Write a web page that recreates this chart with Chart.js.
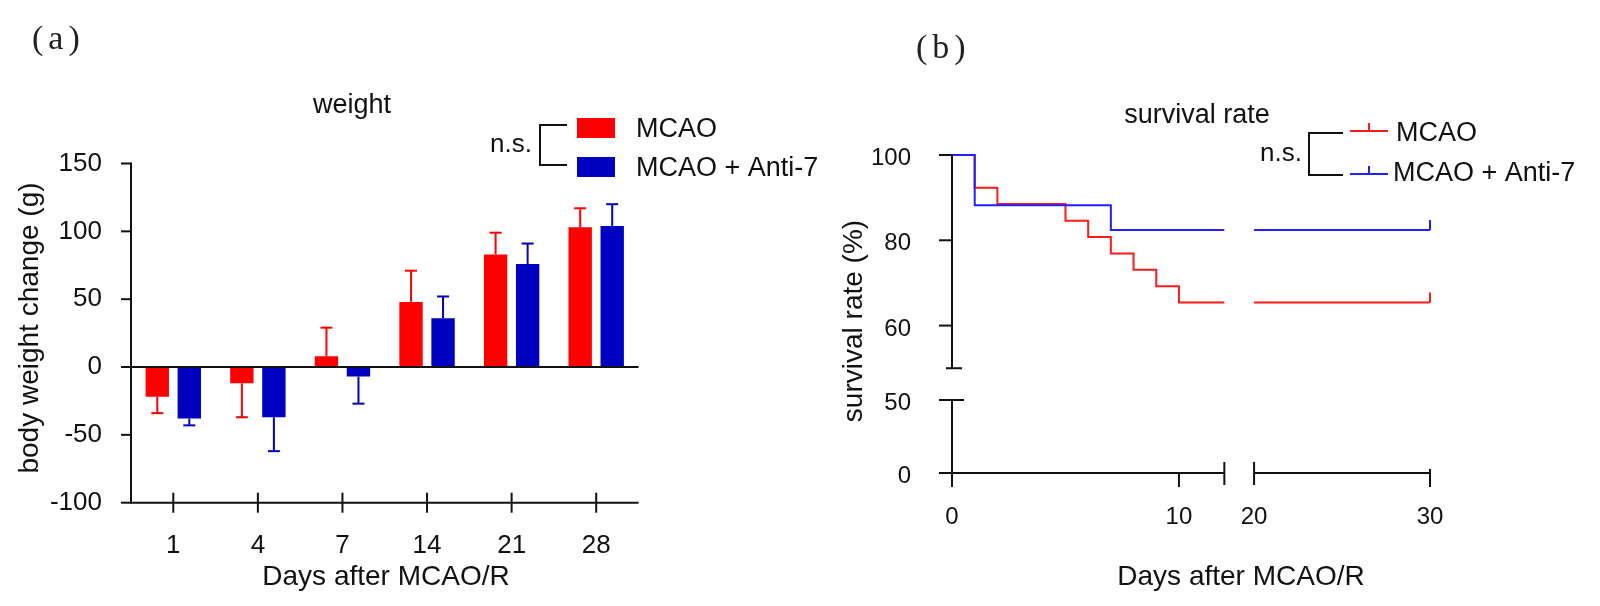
<!DOCTYPE html>
<html>
<head>
<meta charset="utf-8">
<script src="https://cdn.jsdelivr.net/npm/chart.js@4.4.1/dist/chart.umd.min.js"></script>
<style>
  html, body { margin: 0; padding: 0; background: #fff; }
  #wrap { position: relative; width: 1600px; height: 606px; overflow: hidden; }
  canvas { position: absolute; left: 0; top: 0; }
</style>
</head>
<body>
<div id="wrap">
  <canvas id="weightChart" width="1600" height="606"></canvas>
  <canvas id="survivalChart" width="1600" height="606"></canvas>
</div>
<script>
// (a) body weight change, mean + SD
const days = ['1', '4', '7', '14', '21', '28'];
const mcaoWeight = [-22, -12, 8, 48, 83, 103];
const mcaoWeightErr = [12, 25, 21, 23, 16, 14];
const antiWeight = [-38, -37, -7, 36, 76, 104];
const antiWeightErr = [5, 25, 20, 16, 15, 16];
const weightTicks = [-100, -50, 0, 50, 100, 150];

// (b) survival curves (Kaplan-Meier), left part 0-12 days, right part 20-30 days
const mcaoDays = [0, 1, 2, 5, 6, 7, 8, 9, 10, 12];
const mcaoSurv = [100, 92.3, 88.5, 84.6, 80.8, 76.9, 73.1, 69.2, 65.4, 65.4];
const antiDays = [0, 1, 7, 12];
const antiSurv = [100, 88.2, 82.4, 82.4];
const lateDays = [20, 30];
const mcaoLate = [65.4, 65.4];
const antiLate = [82.4, 82.4];
const survTicksTop = [60, 80, 100];
const survTicksBottom = [0, 50];
const dayTicksLeft = [0, 10];
const dayTicksRight = [20, 30];

const FONT = "'Liberation Sans', Arial, sans-serif";
const SERIF = "'Liberation Serif', 'DejaVu Serif', serif";
const INK = '#111';
const RED = '#ff0000';
const BAR_BLUE = '#0000c0';
const LINE_RED = '#ff1a1a';
const LINE_BLUE = '#2020ff';

function line(ctx, x1, y1, x2, y2) {
  ctx.beginPath();
  ctx.moveTo(x1, y1);
  ctx.lineTo(x2, y2);
  ctx.stroke();
}

function text(ctx, s, x, y, size, align, family) {
  ctx.font = size + 'px ' + (family || FONT);
  ctx.textAlign = align || 'left';
  ctx.textBaseline = 'alphabetic';
  ctx.fillStyle = INK;
  ctx.fillText(s, x, y);
}

function vText(ctx, s, x, y, size) {
  ctx.save();
  ctx.translate(x, y);
  ctx.rotate(-Math.PI / 2);
  ctx.font = size + 'px ' + FONT;
  ctx.textAlign = 'center';
  ctx.textBaseline = 'middle';
  ctx.fillStyle = INK;
  ctx.fillText(s, 0, 0);
  ctx.restore();
}

function panelLetter(ctx, s, x, y) {
  ctx.save();
  ctx.letterSpacing = '5px';
  ctx.font = '34px ' + SERIF;
  ctx.fillStyle = '#222';
  ctx.textAlign = 'left';
  ctx.textBaseline = 'alphabetic';
  ctx.fillText(s, x, y);
  ctx.restore();
}

// ejes, barras de error y leyenda del panel (a)
const weightDecor = {
  id: 'weightDecor',
  afterDatasetsDraw(chart) {
    const { ctx, chartArea: a, scales: { x, y } } = chart;
    const errs = [mcaoWeightErr, antiWeightErr];
    ctx.save();
    ctx.lineWidth = 2;
    chart.data.datasets.forEach((ds, i) => {
      const meta = chart.getDatasetMeta(i);
      ctx.strokeStyle = ds.backgroundColor;
      meta.data.forEach((bar, j) => {
        const v = ds.data[j];
        const end = y.getPixelForValue(v < 0 ? v - errs[i][j] : v + errs[i][j]);
        line(ctx, bar.x, bar.y, bar.x, end);
        line(ctx, bar.x - 6, end, bar.x + 6, end);
      });
    });

    ctx.strokeStyle = INK;
    const top = y.getPixelForValue(150);
    const bottom = y.getPixelForValue(-100);
    line(ctx, a.left, top - 1, a.left, bottom + 1);
    weightTicks.forEach(v => {
      const p = y.getPixelForValue(v);
      line(ctx, a.left - 10, p, a.left, p);
    });
    line(ctx, a.left, bottom, a.right, bottom);
    const zero = y.getPixelForValue(0);
    line(ctx, a.left, zero, a.right, zero);
    days.forEach((d, i) => {
      const p = x.getPixelForTick(i);
      line(ctx, p, bottom - 10, p, bottom + 10);
    });
    ctx.restore();
  },
  afterDraw(chart) {
    const ctx = chart.ctx;
    ctx.save();
    panelLetter(ctx, '(a)', 32, 49);
    text(ctx, 'weight', 352, 113, 27, 'center');
    vText(ctx, 'body weight change (g)', 30, 328, 28);
    text(ctx, 'Days after MCAO/R', 386, 585, 28, 'center');

    // leyenda
    text(ctx, 'n.s.', 532, 152, 26, 'right');
    ctx.strokeStyle = INK;
    ctx.lineWidth = 2;
    ctx.beginPath();
    ctx.moveTo(567, 125);
    ctx.lineTo(540, 125);
    ctx.lineTo(540, 165);
    ctx.lineTo(567, 165);
    ctx.stroke();
    ctx.fillStyle = RED;
    ctx.fillRect(577, 118, 38, 20);
    ctx.fillStyle = BAR_BLUE;
    ctx.fillRect(577, 157, 38, 20);
    text(ctx, 'MCAO', 636, 137, 27);
    text(ctx, 'MCAO + Anti-7', 636, 176, 27);
    ctx.restore();
  }
};

new Chart(document.getElementById('weightChart'), {
  type: 'bar',
  data: {
    labels: days,
    datasets: [
      { label: 'MCAO', data: mcaoWeight, backgroundColor: RED, categoryPercentage: 0.757, barPercentage: 0.73 },
      { label: 'MCAO + Anti-7', data: antiWeight, backgroundColor: BAR_BLUE, categoryPercentage: 0.757, barPercentage: 0.73 }
    ]
  },
  options: {
    responsive: false,
    animation: false,
    devicePixelRatio: 1,
    layout: { padding: { left: 0, top: 163.5, right: 961.5, bottom: 0 } },
    plugins: { legend: { display: false }, tooltip: { enabled: false } },
    scales: {
      x: {
        grid: { display: false, drawTicks: false },
        border: { display: false },
        ticks: { color: INK, font: { family: FONT, size: 26 }, padding: 28 },
        afterFit: s => { s.height = 606 - 502.7; }
      },
      y: {
        min: -100,
        max: 150,
        grid: { display: false, drawTicks: false },
        border: { display: false },
        ticks: { color: INK, font: { family: FONT, size: 26 }, padding: 29 },
        afterBuildTicks: s => { s.ticks = weightTicks.map(v => ({ value: v })); },
        afterFit: s => { s.width = 131; }
      }
    }
  },
  plugins: [weightDecor]
});

// ejes cortados, marcas de censura y leyenda del panel (b)
const survivalDecor = {
  id: 'survivalDecor',
  afterDatasetsDraw(chart) {
    const { ctx, scales: s } = chart;
    const ax = s.xL.getPixelForValue(0);
    const ay = s.yBot.getPixelForValue(0);
    ctx.save();
    ctx.lineWidth = 2;

    // censored at the end of follow-up
    chart.data.datasets.forEach((ds, i) => {
      if (ds.xAxisID !== 'xR') return;
      const pts = chart.getDatasetMeta(i).data;
      const p = pts[pts.length - 1];
      ctx.strokeStyle = ds.borderColor;
      line(ctx, p.x, p.y, p.x, p.y - 10);
    });

    ctx.strokeStyle = INK;
    // y, tramo superior 50-100
    const yTopEnd = s.yTop.getPixelForValue(50);
    line(ctx, ax, s.yTop.getPixelForValue(100) - 1, ax, yTopEnd);
    survTicksTop.forEach(v => {
      const p = s.yTop.getPixelForValue(v);
      line(ctx, ax - 13, p, ax, p);
    });
    line(ctx, ax - 6, yTopEnd, ax + 10, yTopEnd);
    // y, tramo inferior 0-50
    const yBotStart = s.yBot.getPixelForValue(50);
    line(ctx, ax, yBotStart, ax, ay + 14);
    line(ctx, ax - 13, yBotStart, ax + 12, yBotStart);
    line(ctx, ax - 13, ay, ax, ay);

    // x, tramo 0-12
    const xCut = s.xL.getPixelForValue(12);
    line(ctx, ax, ay, xCut, ay);
    dayTicksLeft.forEach(v => {
      const p = s.xL.getPixelForValue(v);
      line(ctx, p, ay, p, ay + 14);
    });
    line(ctx, xCut, ay - 11, xCut, ay + 12);
    // x, tramo 20-30
    const x20 = s.xR.getPixelForValue(20);
    const x30 = s.xR.getPixelForValue(30);
    line(ctx, x20, ay, x30, ay);
    line(ctx, x20, ay - 11, x20, ay + 12);
    line(ctx, x30, ay - 4, x30, ay + 14);

    // etiquetas de los ejes
    survTicksTop.forEach(v => text(ctx, String(v), 911, s.yTop.getPixelForValue(v) + 10, 24, 'right'));
    survTicksBottom.forEach(v => text(ctx, String(v), 911, s.yBot.getPixelForValue(v) + 10, 24, 'right'));
    dayTicksLeft.forEach(v => text(ctx, String(v), s.xL.getPixelForValue(v), 524, 24, 'center'));
    dayTicksRight.forEach(v => text(ctx, String(v), s.xR.getPixelForValue(v), 524, 24, 'center'));
    ctx.restore();
  },
  afterDraw(chart) {
    const ctx = chart.ctx;
    ctx.save();
    panelLetter(ctx, '(b)', 916, 58);
    text(ctx, 'survival rate', 1197, 123, 27, 'center');
    vText(ctx, 'survival rate (%)', 854, 321, 28);
    text(ctx, 'Days after MCAO/R', 1241, 585, 28, 'center');

    // leyenda
    text(ctx, 'n.s.', 1302, 161, 26, 'right');
    ctx.strokeStyle = INK;
    ctx.lineWidth = 2;
    ctx.beginPath();
    ctx.moveTo(1343, 133);
    ctx.lineTo(1309, 133);
    ctx.lineTo(1309, 175);
    ctx.lineTo(1343, 175);
    ctx.stroke();
    ctx.strokeStyle = LINE_RED;
    line(ctx, 1350, 131, 1388, 131);
    line(ctx, 1369, 131, 1369, 123);
    ctx.strokeStyle = LINE_BLUE;
    line(ctx, 1350, 174, 1388, 174);
    line(ctx, 1369, 174, 1369, 166);
    text(ctx, 'MCAO', 1396, 141, 27);
    text(ctx, 'MCAO + Anti-7', 1393, 181, 27);
    ctx.restore();
  }
};

const toPoints = (xs, ys) => xs.map((d, i) => ({ x: d, y: ys[i] }));

new Chart(document.getElementById('survivalChart'), {
  type: 'line',
  data: {
    datasets: [
      { label: 'MCAO + Anti-7', data: toPoints(antiDays, antiSurv), xAxisID: 'xL', yAxisID: 'yTop', borderColor: LINE_BLUE, order: 1 },
      { label: 'MCAO + Anti-7', data: toPoints(lateDays, antiLate), xAxisID: 'xR', yAxisID: 'yTop', borderColor: LINE_BLUE, order: 1 },
      { label: 'MCAO', data: toPoints(mcaoDays, mcaoSurv), xAxisID: 'xL', yAxisID: 'yTop', borderColor: LINE_RED, order: 2 },
      { label: 'MCAO', data: toPoints(lateDays, mcaoLate), xAxisID: 'xR', yAxisID: 'yTop', borderColor: LINE_RED, order: 2 }
    ]
  },
  options: {
    responsive: false,
    animation: false,
    devicePixelRatio: 1,
    layout: { padding: { left: 952, right: 170, top: 155, bottom: 133 } },
    plugins: { legend: { display: false }, tooltip: { enabled: false } },
    elements: {
      line: { borderWidth: 2, stepped: true, tension: 0, fill: false },
      point: { radius: 0, hoverRadius: 0 }
    },
    datasets: { line: { clip: false } },
    scales: {
      xL: { type: 'linear', position: 'bottom', stack: 'days', stackWeight: 288, weight: 1, min: 0, max: 12.69, display: false },
      xR: { type: 'linear', position: 'bottom', stack: 'days', stackWeight: 190, weight: 2, min: 19.2, max: 30, display: false },
      yTop: { type: 'linear', position: 'left', stack: 'surv', stackWeight: 229, weight: 2, min: 46.3, max: 100, display: false },
      yBot: { type: 'linear', position: 'left', stack: 'surv', stackWeight: 89, weight: 1, min: 0, max: 60.96, display: false }
    }
  },
  plugins: [survivalDecor]
});
</script>
</body>
</html>
